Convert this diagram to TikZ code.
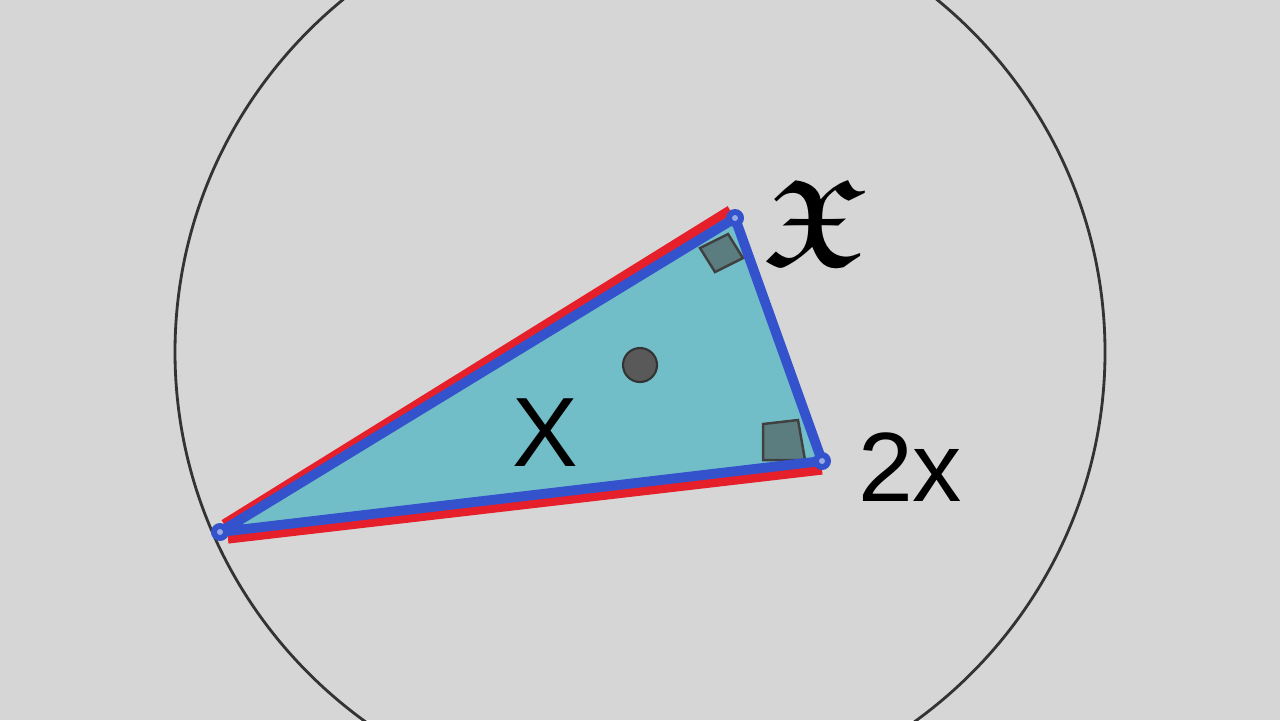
\documentclass[tikz,border=0pt]{standalone}
\usepackage{fontspec}
\usepackage{amssymb}
\usepackage{bm}
\setmainfont{Liberation Sans}
\definecolor{bggray}{HTML}{D6D6D6}
\definecolor{tealfill}{HTML}{72BEC8}
\definecolor{edgeblue}{HTML}{3352CC}
\definecolor{edgered}{HTML}{E6202A}
\definecolor{markfill}{HTML}{5B7D80}
\begin{document}
\begin{tikzpicture}[x=0.01cm, y=-0.01cm,
  redside/.style={edgered, line width=2.6pt},
  blueside/.style={edgeblue, line width=2.8pt, line cap=round, line join=round},
  rightmark/.style={fill=markfill, draw=black!75, line width=0.7pt},
  vertexdot/.style={circle, fill=edgeblue, inner sep=0pt, minimum size=18*0.01cm},
  lbl/.style={font=\fontsize{28}{28}\selectfont, inner sep=0pt}]
\fill[bggray] (0,0) rectangle (1280,720);
\useasboundingbox (0,0) rectangle (1280,720);
\draw[black!80, line width=0.8pt] (640,352) ellipse [x radius=465, y radius=458];

\coordinate (A) at (220,532);
\coordinate (B) at (735,218);
\coordinate (C) at (822,461);

\fill[tealfill] (A) -- (B) -- (C) -- cycle;

% right angle marks
\draw[rightmark] (700,248) -- (715,272) -- (743,258) -- (728,234) -- cycle;
\draw[rightmark] (763,424) -- (763,460) -- (805,460) -- (798,420) -- cycle;

\draw[redside] ([shift={(4,-8)}]A) -- ([shift={(-5,-8)}]B);
\draw[redside] ([shift={(8,7)}]A) -- ([shift={(0,9)}]C);
\draw[blueside] (A) -- (B) -- (C) -- cycle;

\foreach \v in {A,B,C}
{
\node[vertexdot] (dot\v) at (\v) {};
\fill[edgeblue!50!white] (\v) circle (3);
}

\fill[black!65, draw=black!80, line width=0.6pt] (640,365) circle (17);
\node[lbl] (labx) at (545,433) {X};
\node[lbl] (lab2x) at (910,467) {2x};
\node[scale=3.5, inner sep=0pt] (labB) at (815,222) {$\bm{\mathfrak{X}}$};
\end{tikzpicture}
\end{document}
